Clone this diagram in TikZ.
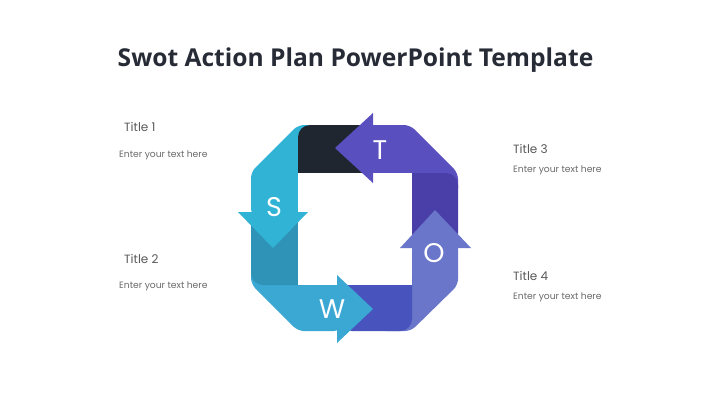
\documentclass[tikz,border=0pt]{standalone}
\usepackage{fontspec}
\setmainfont{Poppins}
\newfontfamily\headfont{Open Sans}
\definecolor{cS}{HTML}{31B3D5}
\definecolor{cSd}{HTML}{2E93B6}
\definecolor{cW}{HTML}{3BA7D3}
\definecolor{cWd}{HTML}{4853BE}
\definecolor{cO}{HTML}{6A76C9}
\definecolor{cOd}{HTML}{4A3FA8}
\definecolor{cT}{HTML}{5A4FBF}
\definecolor{cTd}{HTML}{1F2630}
\definecolor{headcol}{HTML}{262B36}
\definecolor{ttlgray}{HTML}{595959}
\definecolor{bodygray}{HTML}{6A6A6A}
\begin{document}
\begin{tikzpicture}[x=1pt,y=-1pt,
  ttl/.style={anchor=base west, text=ttlgray, inner sep=0, font=\fontsize{12}{14}\selectfont},
  body/.style={anchor=base west, text=bodygray, inner sep=0, font=\fontsize{9.2}{11}\selectfont},
  letter/.style={text=white, inner sep=0, font=\fontsize{27}{30}\selectfont},
  corner/.style={rounded corners=6pt},
  fold/.style={rounded corners=12pt}]
\fill[white] (0,0) rectangle (711,400);
\useasboundingbox (0,0) rectangle (711,400);
% heading
\node[anchor=base, text=headcol, inner sep=0, font=\headfont\bfseries\fontsize{24.6}{28}\selectfont] (head) at (355.5,66.5) {Swot Action Plan PowerPoint Template};
% corner pieces
\fill[cS, corner] (251,215) -- (251,172) -- (298,125) -- (325,125) -- (325,215) -- cycle;
\fill[cT, corner] (330,125) -- (410,125) -- (458,173) -- (458,195) -- (330,195) -- cycle;
\fill[cO, corner] (458,238) -- (458,285) -- (411,331) -- (380,331) -- (380,238) -- cycle;
\fill[cW, corner] (340,331) -- (298,331) -- (251,284) -- (251,255) -- (340,255) -- cycle;
% straight (folded) segments
\fill[cTd, fold] (298,125) rectangle (372,195);
\fill[cOd, fold] (395,173) rectangle (458,246);
\fill[cWd, fold] (340,265) rectangle (412,331);
\fill[cSd, fold] (251,212) rectangle (318,285);
% inner hole
\fill[white] (298,173) rectangle (412,285);
% arrow heads
\fill[cS] (238,212) -- (308,212) -- (273,248) -- cycle;
\fill[cT] (373,113) -- (373,183) -- (335,148) -- cycle;
\fill[cO] (400,248) -- (471,248) -- (435,210) -- cycle;
\fill[cW] (337,275) -- (337,343) -- (373,309) -- cycle;
% letters
\node[letter] (S) at (274,207) {S};
\node[letter] (T) at (380,150) {T};
\node[letter] (O) at (434,253) {O};
\node[letter] (W) at (332,309) {W};
% side texts
\node[ttl] (t1) at (124,131) {Title 1};
\node[body] (b1) at (119,157) {Enter your text here};
\node[ttl] (t2) at (124,263) {Title 2};
\node[body] (b2) at (119,288) {Enter your text here};
\node[ttl] (t3) at (513,153) {Title 3};
\node[body] (b3) at (513,172) {Enter your text here};
\node[ttl] (t4) at (513,280) {Title 4};
\node[body] (b4) at (513,299) {Enter your text here};
\end{tikzpicture}
\end{document}
